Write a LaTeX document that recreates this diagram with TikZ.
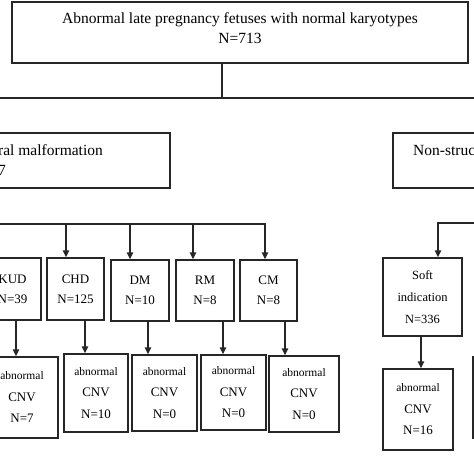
\documentclass[tikz,border=0pt]{standalone}
\usepackage{fontspec}
\setmainfont{Liberation Serif}
\usetikzlibrary{arrows.meta}
\definecolor{linegray}{HTML}{262626}
\newcommand{\abnsize}{\fontsize{11.5}{21.5}\selectfont}

\begin{document}
\begin{tikzpicture}[x=1pt,y=-1pt,
      box/.style={rectangle,draw=linegray,line width=1.4pt,inner sep=0pt,align=center},
      headbox/.style={box,font=\fontsize{15.5}{20}\selectfont},
      subbox/.style={box,font=\fontsize{13}{20}\selectfont},
      resbox/.style={box,font=\fontsize{13}{21.5}\selectfont},
      ln/.style={draw=linegray,line width=1.4pt},
      arr/.style={ln,-{Triangle[length=7pt,width=6.5pt]}}]
    \useasboundingbox (0,0) rectangle (474,474);
    \clip (0,0) rectangle (474,474);
    \fill[white] (0,0) rectangle (474,474);

    % top level
    \node[headbox,minimum width=456,minimum height=61,text depth=9pt] (top) at (240,32.5)
      {Abnormal late pregnancy fetuses with normal karyotypes\\N=713};
    \node[headbox,minimum width=230,minimum height=55] (malf) at (55,160.5) {};
    \node[anchor=west,align=left,inner sep=0pt,font=\fontsize{15.5}{20}\selectfont]
      (malftxt) at (-2,160.5) {ral malformation\\7};
    \node[headbox,minimum width=170,minimum height=55] (nonstr) at (478,160.5) {};
    \node[anchor=west,inner sep=0pt,font=\fontsize{15.5}{20}\selectfont]
      (nonstrtxt) at (413,150) {Non-struc};

    \coordinate (split) at (222,98);
    \coordinate (splitl) at (-5,98);
    \coordinate (splitr) at (480,98);
    \draw[ln] (top.south -| split) -- (split);
    \draw[ln] (splitl) -- (splitr);

    % malformation groups
    \node[subbox,minimum width=57,minimum height=62] (kud) at (12.5,289) {KUD\\N=39};
    \node[subbox,minimum width=57,minimum height=62] (chd) at (75.5,289) {CHD\\N=125};
    \node[subbox,minimum width=58,minimum height=61] (dm) at (140,290.5) {DM\\N=10};
    \node[subbox,minimum width=58,minimum height=61] (rm) at (205,290.5) {RM\\N=8};
    \node[subbox,minimum width=57,minimum height=61] (cm) at (268.5,290.5) {CM\\N=8};
    \node[box,font=\fontsize{12.5}{22}\selectfont,minimum width=79,minimum height=78]
      (soft) at (422.5,297) {Soft\\indication\\N=336};

    \coordinate (barl) at (-5,224);
    \coordinate (barr) at (266,224);
    \draw[ln] (barl) -- (barr);
    \foreach \n/\x in {chd/66,dm/130,rm/193,cm/265} {
      \coordinate (t\n) at (\x,224);
      \draw[arr] (t\n) -- (t\n |- \n.north);
    }
    \coordinate (softbar) at (438,223);
    \coordinate (softbarr) at (480,223);
    \draw[arr] (softbarr) -- (softbar) -- (softbar |- soft.north);

    % CNV results
    \node[resbox,minimum width=72,minimum height=81] (kudcnv) at (22,397.5) {{\abnsize abnormal}\\CNV\\N=7};
    \node[resbox,minimum width=64,minimum height=78] (chdcnv) at (96,393) {{\abnsize abnormal}\\CNV\\N=10};
    \node[resbox,minimum width=65,minimum height=76] (dmcnv) at (164.5,393) {{\abnsize abnormal}\\CNV\\N=0};
    \node[resbox,minimum width=65,minimum height=75] (rmcnv) at (233.5,392.5) {{\abnsize abnormal}\\CNV\\N=0};
    \node[resbox,minimum width=70,minimum height=76] (cmcnv) at (304,394) {{\abnsize abnormal}\\CNV\\N=0};
    \node[resbox,minimum width=70,minimum height=81] (softcnv) at (418,409.5) {{\abnsize abnormal}\\CNV\\N=16};
    \node[box,minimum width=67,minimum height=81] (nextbox) at (506.5,397.5) {};

    \foreach \a/\b/\x in {kud/kudcnv/16,chd/chdcnv/85,dm/dmcnv/148,rm/rmcnv/223,cm/cmcnv/285,soft/softcnv/421}
      \draw[arr] (\a.south -| \x,0) -- (\b.north -| \x,0);
  \end{tikzpicture}
\end{document}
